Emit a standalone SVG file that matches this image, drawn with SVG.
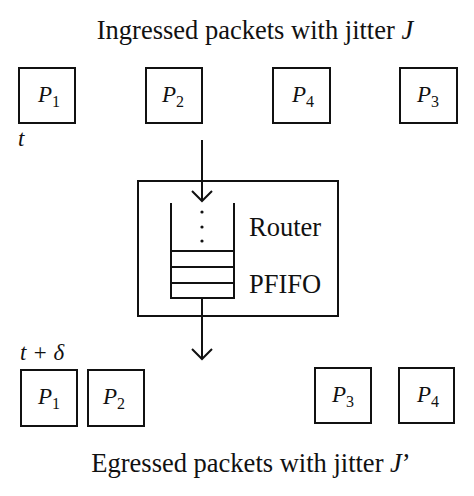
<svg xmlns="http://www.w3.org/2000/svg" width="474" height="496" viewBox="0 0 474 496">
<style>
text{font-family:"Liberation Serif","Times New Roman",serif;fill:#111}
.title{font-size:26.5px}
.lbl{font-size:23px}
.it{font-style:italic}
.sub{font-size:16px}
.box{fill:#fff;stroke:#111;stroke-width:2}
.ln{fill:none;stroke:#111;stroke-width:2}
</style>
<rect width="474" height="496" fill="#fff"/>
<text class="title" x="255" y="39" text-anchor="middle">Ingressed packets with jitter <tspan class="it">J</tspan></text>
<text class="title" x="251" y="472" text-anchor="middle">Egressed packets with jitter <tspan class="it">J</tspan>’</text>
<text class="lbl it" x="18" y="146">t</text>
<text class="lbl it" x="20" y="360">t + δ</text>

<g id="in-p1"><rect class="box" x="19" y="68" width="56" height="55"/><text class="lbl" x="38" y="102"><tspan class="it">P</tspan><tspan class="sub" dy="5">1</tspan></text></g>
<g id="in-p2"><rect class="box" x="146" y="68" width="56" height="55"/><text class="lbl" x="162" y="102"><tspan class="it">P</tspan><tspan class="sub" dy="5">2</tspan></text></g>
<g id="in-p4"><rect class="box" x="273" y="68" width="57" height="55"/><text class="lbl" x="292" y="102"><tspan class="it">P</tspan><tspan class="sub" dy="5">4</tspan></text></g>
<g id="in-p3"><rect class="box" x="400" y="68" width="57" height="55"/><text class="lbl" x="417" y="102"><tspan class="it">P</tspan><tspan class="sub" dy="5">3</tspan></text></g>

<g id="router">
<rect class="box" x="138" y="181" width="200" height="135"/>
<path class="ln" d="M171 203V298H234V203M171 251H234M171 267H234M171 283H234"/>
<circle cx="202" cy="212" r="1.6" fill="#111"/>
<circle cx="202" cy="227" r="1.6" fill="#111"/>
<circle cx="202" cy="241" r="1.6" fill="#111"/>
<text class="title" x="249" y="236">Router</text>
<text class="title" x="249" y="293">PFIFO</text>
</g>

<g id="out-p1"><rect class="box" x="21" y="370" width="56" height="56"/><text class="lbl" x="38" y="404"><tspan class="it">P</tspan><tspan class="sub" dy="5">1</tspan></text></g>
<g id="out-p2"><rect class="box" x="88" y="370" width="56" height="56"/><text class="lbl" x="103" y="404"><tspan class="it">P</tspan><tspan class="sub" dy="5">2</tspan></text></g>
<g id="out-p3"><rect class="box" x="315" y="368" width="56" height="55"/><text class="lbl" x="332" y="402"><tspan class="it">P</tspan><tspan class="sub" dy="5">3</tspan></text></g>
<g id="out-p4"><rect class="box" x="399" y="368" width="55" height="55"/><text class="lbl" x="417" y="402"><tspan class="it">P</tspan><tspan class="sub" dy="5">4</tspan></text></g>

<g id="connectors">
<path class="ln" d="M202 140V201M192 191L202 201L212 191"/>
<path class="ln" d="M202 298V359M192 349L202 359L212 349"/>
</g>
</svg>
